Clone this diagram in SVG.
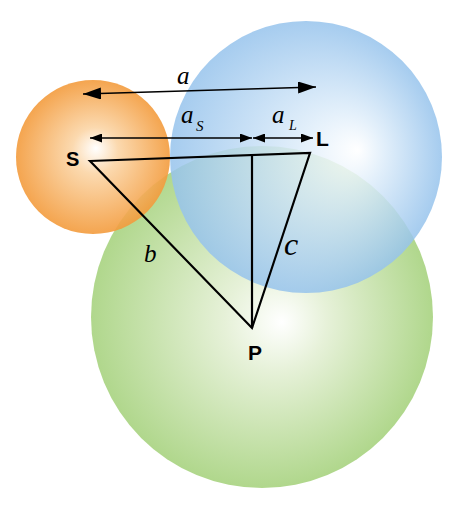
<svg xmlns="http://www.w3.org/2000/svg" width="474" height="505" viewBox="0 0 474 505">
<defs>
<radialGradient id="gOrange" gradientUnits="userSpaceOnUse" cx="93" cy="157" r="77" fx="96" fy="148">
<stop offset="0" stop-color="#ffffff"/>
<stop offset="0.3" stop-color="#fbd5a6"/>
<stop offset="1" stop-color="#f39b3c"/>
</radialGradient>
<radialGradient id="gBlue" gradientUnits="userSpaceOnUse" cx="306" cy="157" r="136" fx="358" fy="150">
<stop offset="0" stop-color="#ffffff"/>
<stop offset="0.3" stop-color="#deedfa"/>
<stop offset="1" stop-color="#96c3ec"/>
</radialGradient>
<radialGradient id="gGreen" gradientUnits="userSpaceOnUse" cx="262" cy="317" r="171" fx="282" fy="322">
<stop offset="0" stop-color="#ffffff"/>
<stop offset="0.3" stop-color="#e6f1d8"/>
<stop offset="1" stop-color="#b0d78c"/>
</radialGradient>
<marker id="bigHead" markerUnits="userSpaceOnUse" markerWidth="18" markerHeight="12" refX="18" refY="6" orient="auto-start-reverse">
<path d="M0,0 L18,6 L0,12 z" fill="#000"/>
</marker>
<marker id="smallHead" markerUnits="userSpaceOnUse" markerWidth="12" markerHeight="9" refX="12" refY="4.5" orient="auto-start-reverse">
<path d="M0,0 L12,4.5 L0,9 z" fill="#000"/>
</marker>
</defs>
<style>
.math{font-family:"Liberation Serif","Times New Roman",serif;font-style:italic;fill:#000}
.pt{font-family:"Liberation Sans",Arial,sans-serif;font-weight:bold;fill:#000}
.tri{fill:none;stroke:#000;stroke-width:2.2;stroke-linejoin:miter}
.dim{stroke:#000;stroke-width:1.6;fill:none}
</style>
<rect width="474" height="505" fill="#ffffff"/>
<g id="sphereP"><circle cx="262" cy="317" r="171" fill="url(#gGreen)"/></g>
<g id="sphereS"><circle cx="93" cy="157" r="77" fill="url(#gOrange)" opacity="0.9"/></g>
<g id="sphereL"><circle cx="306" cy="157" r="136" fill="url(#gBlue)" opacity="0.85"/></g>
<g id="connectors">
<polygon class="tri" points="90,161 310,153 252,328"/>
<line class="tri" x1="252" y1="154" x2="252" y2="328"/>
<line class="dim" x1="83" y1="94" x2="316" y2="87" marker-start="url(#bigHead)" marker-end="url(#bigHead)"/>
<line class="dim" x1="90" y1="138" x2="252" y2="138" marker-start="url(#smallHead)" marker-end="url(#smallHead)"/>
<line class="dim" x1="253" y1="138" x2="313" y2="138" marker-start="url(#smallHead)" marker-end="url(#smallHead)"/>
</g>
<g id="labelS"><text class="pt" x="66" y="166" font-size="20">S</text></g>
<g id="labelL"><text class="pt" x="316" y="146" font-size="21">L</text></g>
<g id="labelP"><text class="pt" x="248" y="360" font-size="21">P</text></g>
<g id="label-a"><text class="math" x="177" y="84" font-size="25">a</text></g>
<g id="label-aS"><text class="math" x="181" y="123" font-size="25">a</text><text class="math" x="196" y="131" font-size="15">S</text></g>
<g id="label-aL"><text class="math" x="272" y="123" font-size="25">a</text><text class="math" x="289" y="130" font-size="14">L</text></g>
<g id="label-b"><text class="math" x="144" y="262" font-size="25">b</text></g>
<g id="label-c"><text class="math" x="284" y="255" font-size="32">c</text></g>
</svg>
